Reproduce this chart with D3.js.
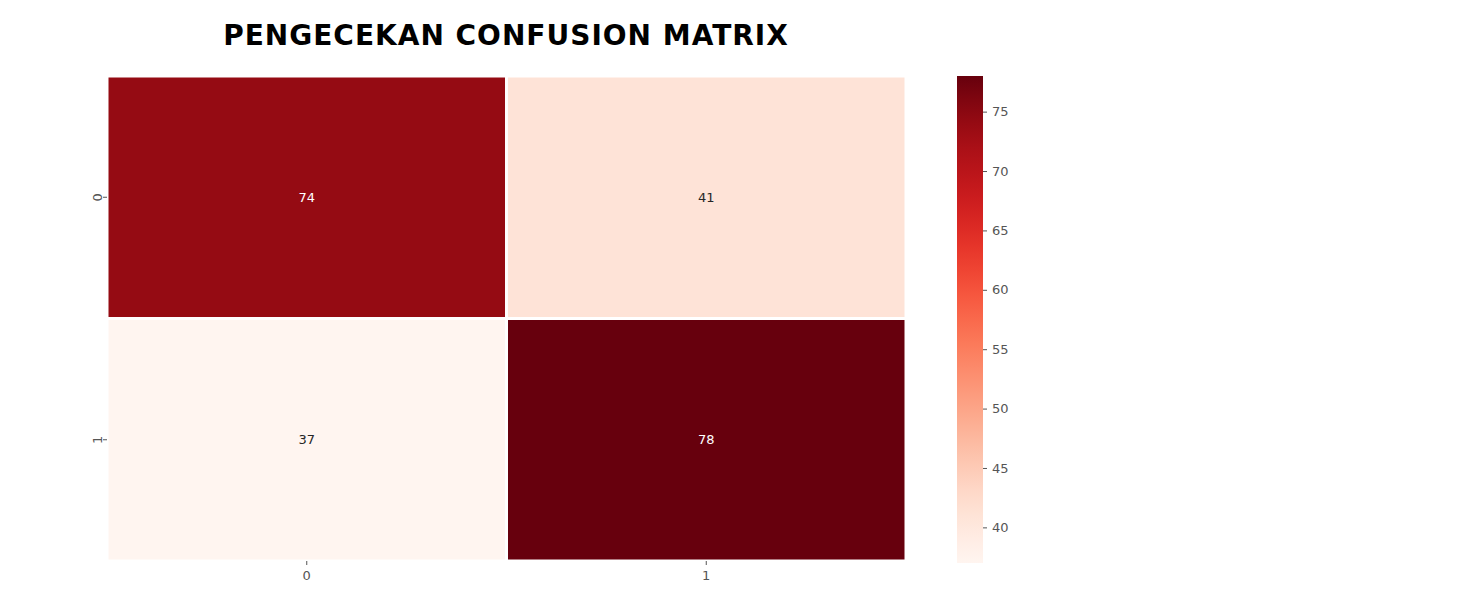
<!DOCTYPE html>
<html>
<head>
<meta charset="utf-8">
<script src="https://cdn.jsdelivr.net/npm/d3@7"></script>
<style>
  body { margin: 0; background: #fff; font-family: "DejaVu Sans", sans-serif; }
</style>
</head>
<body>
<svg id="chart" width="1477" height="611"></svg>
<script>
// confusion matrix values
var rowLabels = ["0", "1"];
var colLabels = ["0", "1"];
var matrix = [[74, 41], [37, 78]];
var cbarTicks = [40, 45, 50, 55, 60, 65, 70, 75];

(function () {
var svg = d3.select("#chart");
var left = 107, plotTop = 76, w = 799, h = 485;

var x = d3.scaleBand().domain(colLabels).range([left, left + w]);
var y = d3.scaleBand().domain(rowLabels).range([plotTop, plotTop + h]);
var vmin = 37, vmax = 78;
var color = d3.scaleSequential(d3.interpolateReds).domain([vmin, vmax]);

svg.append("text")
  .attr("x", 506).attr("y", 45)
  .attr("text-anchor", "middle")
  .style("font-size", "28px").style("font-weight", "bold")
  .style("letter-spacing", "1px")
  .text("PENGECEKAN CONFUSION MATRIX");

var cells = [];
matrix.forEach(function (row, i) {
  row.forEach(function (v, j) { cells.push({ r: rowLabels[i], c: colLabels[j], v: v }); });
});

svg.selectAll("rect.cell").data(cells).enter().append("rect")
  .attr("class", "cell")
  .attr("x", d => x(d.c)).attr("y", d => y(d.r))
  .attr("width", x.bandwidth()).attr("height", y.bandwidth())
  .attr("fill", d => color(d.v))
  .attr("stroke", "#fff").attr("stroke-width", 3);

svg.selectAll("text.val").data(cells).enter().append("text")
  .attr("class", "val")
  .attr("x", d => x(d.c) + x.bandwidth() / 2)
  .attr("y", d => y(d.r) + y.bandwidth() / 2)
  .attr("dy", "0.35em").attr("text-anchor", "middle")
  .style("font-size", "13px")
  .attr("fill", d => (d.v - vmin) / (vmax - vmin) > 0.5 ? "#fff" : "#262626")
  .text(d => d.v);

// axes
var xAxis = svg.append("g").attr("transform", "translate(0," + (plotTop + h) + ")")
  .call(d3.axisBottom(x).tickSize(4).tickPadding(6));
var yAxis = svg.append("g").attr("transform", "translate(" + left + ",0)")
  .call(d3.axisLeft(y).tickSize(4).tickPadding(6));
[xAxis, yAxis].forEach(function (g) {
  g.select(".domain").remove();
  g.selectAll("line").attr("stroke", "#555");
  g.selectAll("text").style("font-size", "13px").attr("fill", "#555")
    .style("font-family", "DejaVu Sans");
});
yAxis.selectAll(".tick text")
  .attr("transform", function () {
    return "rotate(-90," + d3.select(this).attr("x") + ",0)";
  })
  .attr("text-anchor", "middle").attr("dy", "0.35em");

// colorbar
var cbX = 957, cbW = 26, cbTop = 76, cbBot = 563;
var cy = d3.scaleLinear().domain([vmin, vmax]).range([cbBot, cbTop]);
var defs = svg.append("defs");
var grad = defs.append("linearGradient").attr("id", "cb")
  .attr("x1", 0).attr("y1", 1).attr("x2", 0).attr("y2", 0);
d3.range(0, 1.0001, 0.05).forEach(function (t) {
  grad.append("stop").attr("offset", t).attr("stop-color", d3.interpolateReds(t));
});
svg.append("rect").attr("x", cbX).attr("y", cbTop)
  .attr("width", cbW).attr("height", cbBot - cbTop).attr("fill", "url(#cb)");
var cAxis = svg.append("g").attr("transform", "translate(" + (cbX + cbW) + ",0)")
  .call(d3.axisRight(cy).tickValues(cbarTicks).tickSize(4).tickPadding(5));
cAxis.select(".domain").remove();
cAxis.selectAll("line").attr("stroke", "#555");
cAxis.selectAll("text").style("font-size", "13px").attr("fill", "#555")
  .style("font-family", "DejaVu Sans");
})();
</script>
</body>
</html>
